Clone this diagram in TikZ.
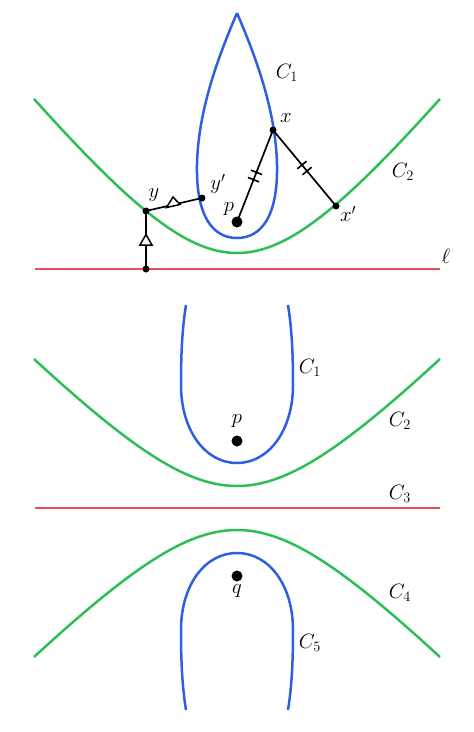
\documentclass[tikz,border=0pt]{standalone}
\usetikzlibrary{calc}
\definecolor{cblue}{RGB}{45,95,225}
\definecolor{cgreen}{RGB}{45,190,85}
\definecolor{cred}{RGB}{232,78,88}
\begin{document}
\begin{tikzpicture}[x=1pt,y=-1pt,
  bluecurve/.style={cblue,line width=2.5pt},
  greencurve/.style={cgreen,line width=2.5pt},
  redline/.style={cred,line width=2.2pt},
  seg/.style={black,line width=1.7pt},
  dot/.style={circle,fill=black,inner sep=0pt,minimum size=7pt},
  bigdot/.style={circle,fill=black,inner sep=0pt,minimum size=11pt},
  lab/.style={inner sep=1pt,font=\fontsize{21}{25}\selectfont},
  tick/.style={black,line width=1.6pt},
  tri/.style={black,line width=1.5pt,fill=white,line join=miter}]
\useasboundingbox (0,0) rectangle (474,732);

% ---------- top figure ----------
\coordinate (l1) at (35,269);
\coordinate (l2) at (440,269);
\draw[redline] (l1) -- (l2);
\node[lab] (lell) at (446,256) {$\ell$};

\draw[greencurve] plot[domain=-203:203,samples=101,smooth]
  ({237+\x},{389.4-10*sqrt(186.05+1.597*(\x/10)*(\x/10))});

\draw[bluecurve] (237,13) .. controls (255,55) and (276,110) .. (277,165)
  .. controls (278,215) and (262,238) .. (237,238)
  .. controls (212,238) and (196,215) .. (197,165)
  .. controls (198,110) and (219,55) .. (237,13);

\node[dot] (X) at (273,130) {};
\node[dot] (Xp) at (336,206) {};
\node[dot] (Y) at (146,211) {};
\node[dot] (Yp) at (202,198) {};
\node[dot] (F) at (146,269) {};
\node[bigdot] (P) at (237,222) {};

\draw[seg] (X.center) -- (P.center);
\draw[seg] (X.center) -- (Xp.center);
\draw[seg] (Y.center) -- (Yp.center);
\draw[seg] (F.center) -- (Y.center);

% double ticks
\foreach \f in {0.46,0.54}{
  \coordinate (ta) at ($(X)!\f!(P)$);
  \draw[tick] ($(ta)!6pt!90:(P)$) -- ($(ta)!6pt!-90:(P)$);
  \coordinate (tb) at ($(X)!\f!(Xp)$);
  \draw[tick] ($(tb)!6pt!90:(Xp)$) -- ($(tb)!6pt!-90:(Xp)$);
}
% open triangles
\draw[tri] (140,245) -- (152,245) -- (146,234.5) -- cycle;
\draw[tri] (166.5,207.5) -- (180,204.5) -- (173,197) -- cycle;

\node[lab] (lC1) at (287,73) {$C_1$};
\node[lab] (lx) at (286,118) {$x$};
\node[lab] (lyp) at (218,184) {$y'$};
\node[lab] (ly) at (154,195) {$y$};
\node[lab] (lp) at (229,209) {$p$};
\node[lab] (lxp) at (348,214) {$x'$};
\node[lab] (lC2) at (403,172) {$C_2$};

% ---------- bottom figure ----------
\draw[bluecurve] (186,305) .. controls (182,330) and (181,355) .. (181,385)
  .. controls (181,430) and (205,463) .. (237,463)
  .. controls (269,463) and (293,430) .. (293,385)
  .. controls (293,355) and (292,330) .. (288,305);
\node[bigdot] (P2) at (237,441) {};
\node[lab] (lp2) at (237,421) {$p$};
\node[lab] (lC1b) at (310,368) {$C_1$};

\draw[greencurve] plot[domain=-203:203,samples=101,smooth]
  ({237+\x},{598.4-8.24*sqrt(186.05+1.597*(\x/10)*(\x/10))});
\node[lab] (lC2b) at (400,421) {$C_2$};

\coordinate (c3a) at (35,508);
\coordinate (c3b) at (440,508);
\draw[redline] (c3a) -- (c3b);
\node[lab] (lC3) at (400,494) {$C_3$};

\draw[greencurve] plot[domain=-203:203,samples=101,smooth]
  ({237+\x},{417.6+8.24*sqrt(186.05+1.597*(\x/10)*(\x/10))});
\node[lab] (lC4) at (400,593) {$C_4$};

\draw[bluecurve] (186,710) .. controls (182,685) and (181,660) .. (181,630)
  .. controls (181,585) and (205,553) .. (237,553)
  .. controls (269,553) and (293,585) .. (293,630)
  .. controls (293,660) and (292,685) .. (288,710);
\node[bigdot] (Q) at (237,576) {};
\node[lab] (lq) at (237,591) {$q$};
\node[lab] (lC5) at (310,643) {$C_5$};
\end{tikzpicture}
\end{document}
